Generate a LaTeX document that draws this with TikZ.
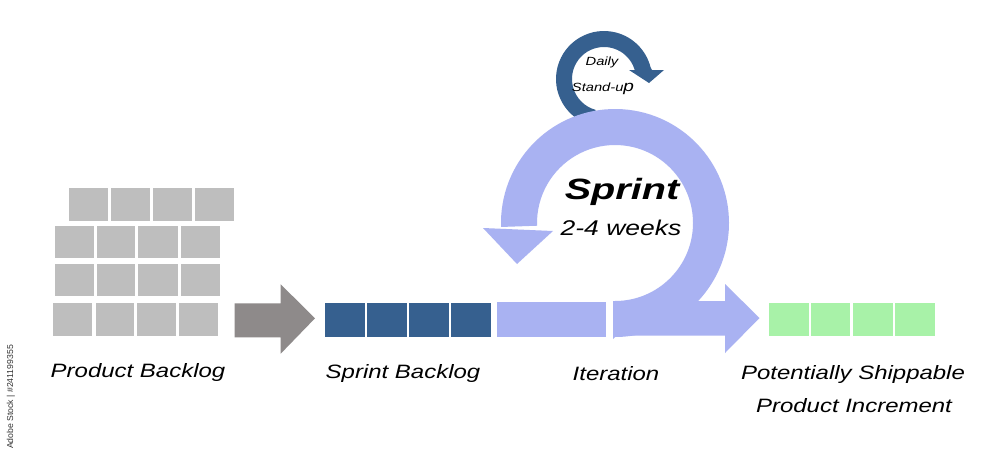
\documentclass[tikz,border=0pt]{standalone}
\usepackage{fontspec}
\usetikzlibrary{calc}
\setmainfont{Liberation Sans}[FakeStretch=1.24]
\newfontfamily\sprintfont{Liberation Sans}[FakeStretch=1.35]
\newfontfamily\stockfont{Liberation Sans}
\definecolor{cellgrey}{HTML}{BEBEBE}
\definecolor{arrowgrey}{HTML}{8E8A8A}
\definecolor{sprintblue}{HTML}{36608F}
\definecolor{iterblue}{HTML}{A9B2F2}
\definecolor{incgreen}{HTML}{A8F2A8}
\tikzset{
  rowcell/.style n args={5}{rectangle,inner sep=0pt,outer sep=0pt,anchor=north west,fill=#5,
     minimum width=(#3-#1)*0.75pt,minimum height=(#4-#2)*0.75pt},
  labeltext/.style={font=\itshape\fontsize{14.5}{16}\selectfont,inner sep=0pt,anchor=center},
  standup/.style={font=\itshape\fontsize{8.9}{10}\selectfont,inner sep=0pt,anchor=center}
}
\newcommand{\cellnode}[6]{\node[rowcell={#2}{#3}{#4}{#5}{#6}] (#1) at (#2,#3) {};}
\begin{document}
\begin{tikzpicture}[x=0.75pt,y=-0.75pt]
\useasboundingbox (0,0) rectangle (1000,457);
\fill[white] (0,0) rectangle (1000,457);

% Product backlog
\cellnode{a1}{69}{188.3}{108}{220.7}{cellgrey}
\cellnode{a2}{111}{188.3}{149.7}{220.7}{cellgrey}
\cellnode{a3}{152.7}{188.3}{192}{220.7}{cellgrey}
\cellnode{a4}{195}{188.3}{234}{220.7}{cellgrey}
\cellnode{b1}{54.7}{225.7}{93.7}{258}{cellgrey}
\cellnode{b2}{97}{225.7}{135.3}{258}{cellgrey}
\cellnode{b3}{138.3}{225.7}{178}{258}{cellgrey}
\cellnode{b4}{181}{225.7}{219.7}{258}{cellgrey}
\cellnode{c1}{54.7}{263.7}{93.7}{296.3}{cellgrey}
\cellnode{c2}{97}{263.7}{135.3}{296.3}{cellgrey}
\cellnode{c3}{138.3}{263.7}{178}{296.3}{cellgrey}
\cellnode{c4}{181}{263.7}{219.7}{296.3}{cellgrey}
\cellnode{d1}{53.3}{303}{92.3}{335.7}{cellgrey}
\cellnode{d2}{95.7}{303}{134}{335.7}{cellgrey}
\cellnode{d3}{137}{303}{176.3}{335.7}{cellgrey}
\cellnode{d4}{179.3}{303}{218.3}{335.7}{cellgrey}

% Grey arrow
\fill[arrowgrey] (234.7,303.3) -- (280.7,303.3) -- (280.7,284.3) -- (315,318.3)
  -- (280.7,353.7) -- (280.7,337.3) -- (234.7,337.3) -- cycle;

% Sprint backlog
\cellnode{s1}{325}{303.3}{365}{336.7}{sprintblue}
\cellnode{s2}{367}{303.3}{406.7}{336.7}{sprintblue}
\cellnode{s3}{408.7}{303.3}{449}{336.7}{sprintblue}
\cellnode{s4}{451}{303.3}{491}{336.7}{sprintblue}

% Iteration
\cellnode{it}{497}{302.3}{605.7}{337.3}{iterblue}

% Increment
\cellnode{g1}{769}{303.3}{808.7}{336.3}{incgreen}
\cellnode{g2}{811}{303.3}{850.3}{336.3}{incgreen}
\cellnode{g3}{852.7}{303.3}{892.7}{336.3}{incgreen}
\cellnode{g4}{895}{303.3}{934.7}{336.3}{incgreen}

% Daily stand-up arrow
\coordinate (dc) at (604,79);
\fill[sprintblue] ($(dc)+(105:48)$) arc[start angle=105,end angle=346,radius=48]
  -- (652,70) -- (636,70) -- ($(dc)+(346:32)$) arc[start angle=346,end angle=105,radius=32] -- cycle;
\fill[sprintblue] (629,70) -- (664,70) -- (649,83) -- cycle;

% Sprint loop
\coordinate (lc) at (615,223);
\fill[iterblue] ($(lc)+(178:114)$) arc[start angle=178,end angle=450,radius=114]
  -- (613,339) -- (613,301) -- ($(lc)+(450:78)$)
  arc[start angle=450,end angle=178,radius=78] -- cycle;
\fill[iterblue] (483,228) -- (553,231) -- (517,264) -- cycle;
\fill[iterblue] (613,335.5) -- (725,335.5) -- (725,353) -- (759.5,318) -- (725,284)
  -- (725,301) -- (660,301) -- (613,318) -- cycle;

% Labels
\node[labeltext] (pb) at (138,372) {Product Backlog};
\node[labeltext] (sb) at (403,373.5) {Sprint Backlog};
\node[labeltext] (itl) at (616,374) {Iteration};
\node[labeltext] (ps) at (853,374) {Potentially Shippable};
\node[labeltext] (pi) at (854,406) {Product Increment};
\node[inner sep=0pt,font=\sprintfont\bfseries\itshape\fontsize{22}{24}\selectfont] (sp) at (622,192) {Sprint};
\node[inner sep=0pt,font=\itshape\fontsize{16}{18}\selectfont] (wk) at (621,227.5) {2-4 weeks};
\node[standup] (dl) at (602,62.5) {Daily};
\node[standup] (su) at (603,89) {Stand-u{\fontsize{11.5}{10}\selectfont p}};
\node[inner sep=0pt,rotate=90,text=black!80,font=\stockfont\fontsize{6.5}{8}\selectfont] (st) at (11,397) {Adobe Stock | \#241199355};
\end{tikzpicture}
\end{document}
